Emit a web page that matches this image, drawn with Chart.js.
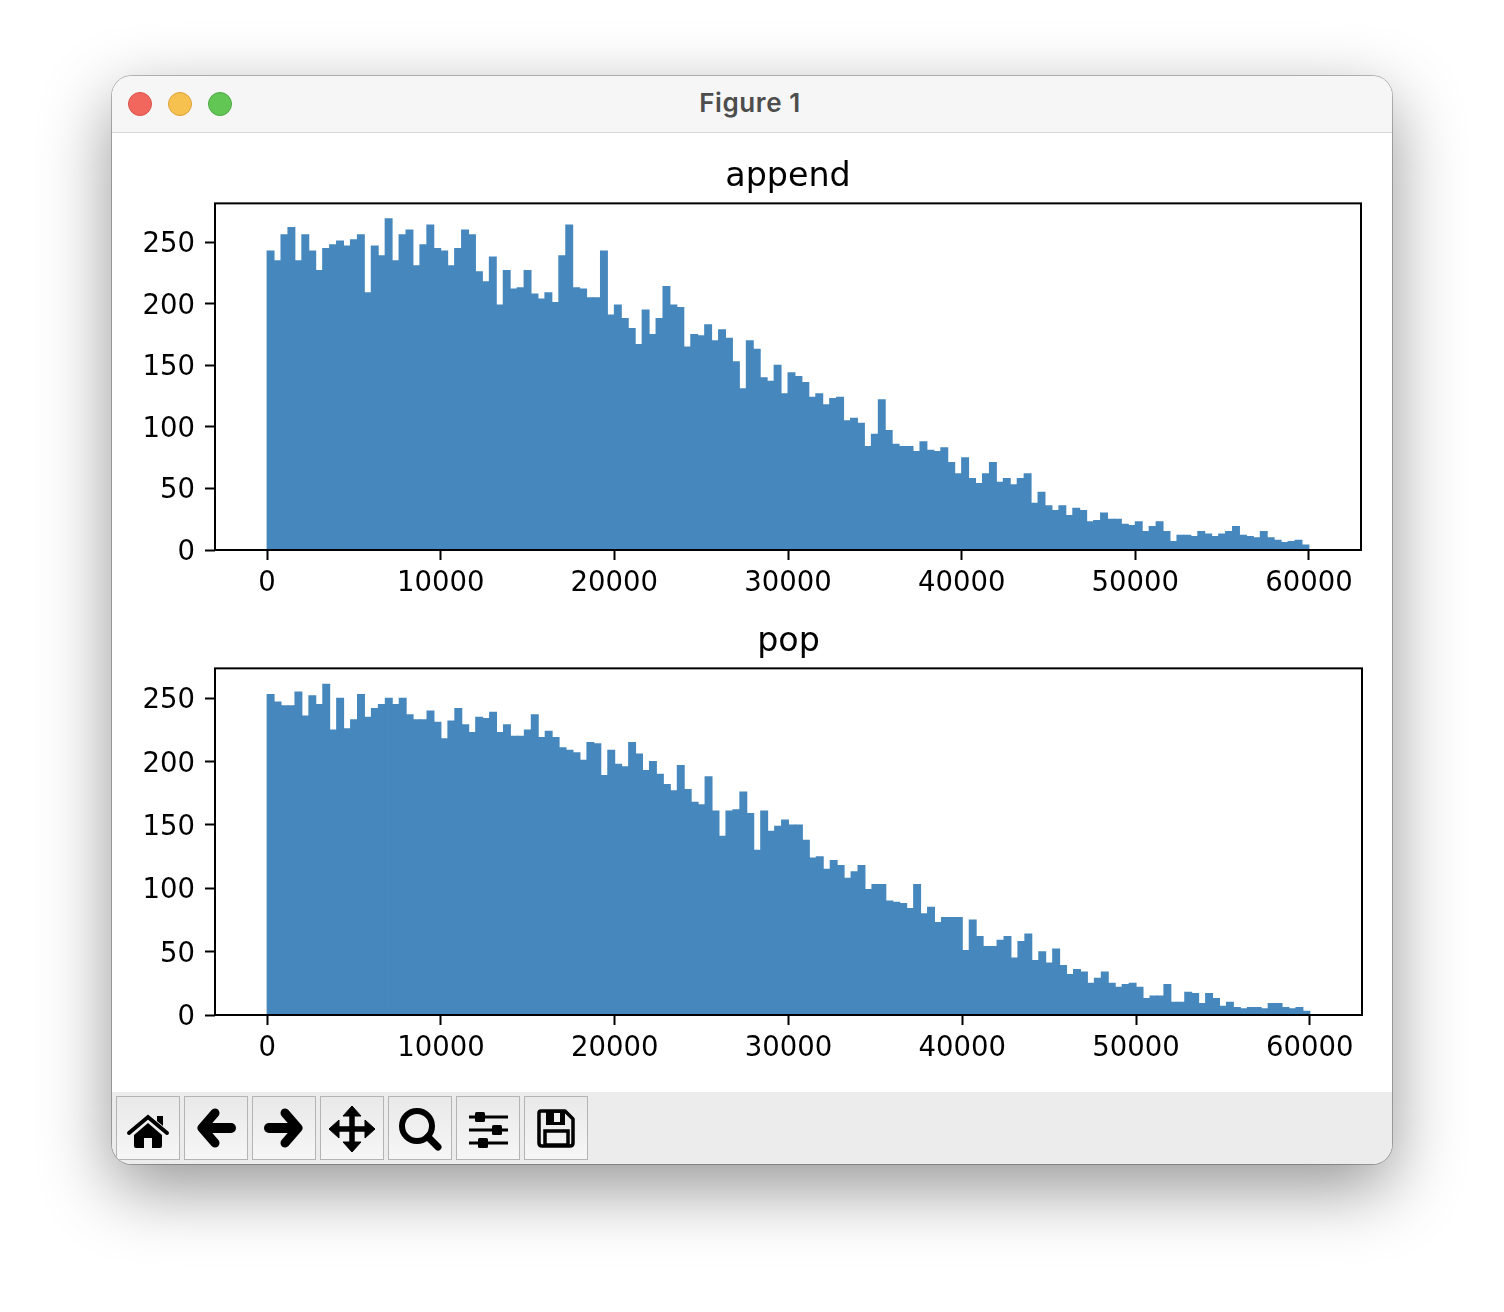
<!DOCTYPE html>
<html>
<head>
<meta charset="utf-8">
<title>Figure 1</title>
<script src="https://cdn.jsdelivr.net/npm/chart.js@4"></script>
<style>
    html, body { margin: 0; padding: 0; background: #fff; width: 1504px; height: 1312px; overflow: hidden; }
    #window {
        position: absolute; left: 112px; top: 76px; width: 1280px; height: 1088px;
        background: #fff; border-radius: 20px;
        box-shadow: 0 24px 70px 0 rgba(0,0,0,0.42), 0 0 0 1px rgba(0,0,0,0.25);
        overflow: hidden;
    }
    #titlebar {
        position: absolute; left: 0; top: 0; width: 100%; height: 56px; box-sizing: content-box;
        background: #f6f6f6; border-bottom: 1px solid #d9d9d9;
        text-align: center; text-indent: -4px;
        font: 600 26px/54px Inter, Roboto, sans-serif; letter-spacing: 0.6px; color: #4d4d4d;
    }
    .light { position: absolute; top: 16px; width: 22px; height: 22px; border-radius: 50%; border: 1px solid; }
    #toolbar { position: absolute; left: 0; top: 1016px; width: 100%; height: 72px; background: #ececec; }
    .tool {
        position: absolute; top: 4px; width: 62px; height: 62px; border: 1px solid #b4b4b4;
        background: linear-gradient(#e9e9e9, #f6f6f6);
    }
    .tool svg { position: absolute; left: -1px; top: -1px; width: 64px; height: 64px; }
    canvas { position: absolute; left: 0; }
</style>
</head>
<body>
<div id="window">
    <div id="titlebar">Figure 1
        <div class="light" style="left:16px;background:#f1675d;border-color:#d9534a"></div>
        <div class="light" style="left:56px;background:#f7c14f;border-color:#dca13d"></div>
        <div class="light" style="left:96px;background:#62c655;border-color:#4daa41"></div>
    </div>
    <canvas id="appendChart" width="1280" height="488" style="top:56px"></canvas>
    <canvas id="popChart" width="1280" height="488" style="top:521px"></canvas>
    <div id="toolbar">
        <div class="tool" style="left:4px"><svg viewBox="0 0 64 64">
            <path d="M13 37 L32 21 L51 37" fill="none" stroke="#000" stroke-width="4" stroke-linecap="round"/>
            <path d="M41 20 H47 V30 L41 25 Z"/>
            <path d="M18 39 L32 27 L46 39 V50 Q46 52 44 52 H36 V42 H28 V52 H20 Q18 52 18 50 Z"/>
        </svg></div>
        <div class="tool" style="left:72px"><svg viewBox="0 0 64 64">
            <path d="M31 17 L18 32 L31 47" fill="none" stroke="#000" stroke-width="9" stroke-linecap="round" stroke-linejoin="round"/>
            <path d="M20 32 H47" stroke="#000" stroke-width="10" stroke-linecap="round"/>
        </svg></div>
        <div class="tool" style="left:140px"><svg viewBox="0 0 64 64">
            <path d="M33 17 L46 32 L33 47" fill="none" stroke="#000" stroke-width="9" stroke-linecap="round" stroke-linejoin="round"/>
            <path d="M44 32 H17" stroke="#000" stroke-width="10" stroke-linecap="round"/>
        </svg></div>
        <div class="tool" style="left:208px"><svg viewBox="0 0 64 64">
            <path d="M32 16 V50 M15 33 H49" stroke="#000" stroke-width="5.5"/>
            <path d="M32 10 L41 20 H23 Z M32 56 L23 46 H41 Z M9 33 L19 24 V42 Z M55 33 L45 42 V24 Z" stroke="#000" stroke-width="1" stroke-linejoin="round"/>
        </svg></div>
        <div class="tool" style="left:276px"><svg viewBox="0 0 64 64">
            <circle cx="29" cy="30" r="15" fill="none" stroke="#000" stroke-width="6"/>
            <path d="M40 41 L50 51" stroke="#000" stroke-width="7" stroke-linecap="round"/>
        </svg></div>
        <div class="tool" style="left:344px"><svg viewBox="0 0 64 64">
            <path d="M13 21 H52 M13 34 H52 M13 47 H52" stroke="#000" stroke-width="3"/>
            <rect x="19" y="16" width="10" height="10" rx="1.5"/>
            <rect x="36" y="29" width="10" height="10" rx="1.5"/>
            <rect x="22" y="42" width="10" height="10" rx="1.5"/>
        </svg></div>
        <div class="tool" style="left:412px"><svg viewBox="0 0 64 64">
            <path d="M17 15 H41 L49 23 V47 Q49 50 46 50 H18 Q15 50 15 47 V17 Q15 15 17 15 Z" fill="none" stroke="#000" stroke-width="3.5" stroke-linejoin="round"/>
            <path d="M22 15 H41 V29 H22 Z"/>
            <rect x="30" y="17" width="6" height="9" fill="#f0f0f0"/>
            <rect x="21" y="35" width="23" height="14" fill="none" stroke="#000" stroke-width="3.5"/>
        </svg></div>
    </div>
</div>
<script>
const appendTitle = 'append';
const popTitle = 'pop';
const binWidth = 400;
const xTicks = [0, 10000, 20000, 30000, 40000, 50000, 60000];
const yTicks = [0, 50, 100, 150, 200, 250];
const barColor = '#4688bd';
const tickFont = { family: "'DejaVu Sans'", size: 27.5 };

const appendCounts = [243,235,256,262,235,256,243,227,245,248,251,247,252,256,209,247,239,269,235,256,
    260,231,248,264,245,243,231,245,260,256,226,218,238,199,227,212,213,227,208,204,
    209,201,239,264,213,212,205,205,243,191,199,188,180,167,195,175,188,214,199,197,
    165,175,174,183,170,179,172,153,131,170,163,140,137,150,127,144,141,136,124,127,
    118,123,124,105,107,103,84,94,122,97,86,84,84,80,88,81,80,83,71,62,
    75,58,54,62,71,55,58,53,58,62,38,47,36,32,36,28,34,32,23,24,
    30,25,25,21,20,23,15,19,23,15,7,12,12,11,15,13,11,13,15,19,
    12,11,10,15,10,8,6,7,8,4];

const popCounts = [253,247,244,244,255,236,252,245,261,225,250,226,233,253,235,242,245,250,245,250,
    237,233,233,240,231,218,232,242,229,223,235,234,239,223,229,220,220,225,237,219,
    224,219,211,209,207,201,215,214,189,209,198,196,215,206,193,200,190,182,177,197,
    178,168,166,188,161,141,161,162,176,159,130,161,145,149,154,150,150,138,124,125,
    115,122,118,108,113,118,99,103,103,90,89,88,84,103,80,85,73,77,77,77,
    51,75,62,54,54,59,62,45,58,64,43,50,41,52,39,32,36,34,25,29,
    34,25,22,24,25,22,13,15,15,24,10,10,18,17,9,17,13,7,10,6,
    5,6,6,5,9,9,6,5,6,3];

// matplotlib style box around the axes, and y labels centred on the digits
const boxPlugin = {
    id: 'axesBox',
    afterDatasetsDraw(chart) {
        const { ctx, chartArea, scales } = chart;
        ctx.save();
        ctx.strokeStyle = '#000';
        ctx.lineWidth = 2;
        ctx.strokeRect(chartArea.left, chartArea.top, chartArea.right - chartArea.left, chartArea.bottom - chartArea.top);
        ctx.fillStyle = '#000';
        ctx.font = `${tickFont.size}px ${tickFont.family}`;
        ctx.textAlign = 'right';
        ctx.textBaseline = 'alphabetic';
        scales.y.ticks.forEach((t, i) => {
            ctx.fillText(t.label, chartArea.left - 20, scales.y.getPixelForTick(i) + 10);
        });
        ctx.restore();
    }
};

function makeHist(id, title, counts, yMax, rightPad) {
    return new Chart(document.getElementById(id), {
        type: 'bar',
        data: {
            datasets: [{
                label: title,
                data: counts.map((c, i) => ({ x: binWidth * i + binWidth / 2, y: c })),
                backgroundColor: barColor,
                borderWidth: 0,
                inflateAmount: 0.5,
                barPercentage: 1,
                categoryPercentage: 1
            }]
        },
        plugins: [boxPlugin],
        options: {
            responsive: false,
            animation: false,
            layout: { padding: { left: 0, right: rightPad, top: 0, bottom: 0 } },
            plugins: {
                legend: { display: false },
                tooltip: { enabled: false },
                title: {
                    display: true,
                    text: title,
                    fullSize: false,
                    color: '#000',
                    font: { family: "'DejaVu Sans'", size: 33.3, weight: 'normal' },
                    padding: { top: 25, bottom: 6.4 }
                }
            },
            scales: {
                x: {
                    type: 'linear',
                    min: -3000,
                    max: 63000,
                    offset: false,
                    afterBuildTicks: axis => { axis.ticks = xTicks.map(v => ({ value: v })); },
                    afterFit: axis => { axis.height = 70; },
                    ticks: { color: '#000', font: tickFont, padding: 7, autoSkip: false, maxRotation: 0, callback: v => String(v) },
                    grid: { offset: false, drawOnChartArea: false, drawTicks: true, tickLength: 10, tickWidth: 2, tickColor: '#000' },
                    border: { display: false }
                },
                y: {
                    min: 0,
                    max: yMax,
                    afterBuildTicks: axis => { axis.ticks = yTicks.map(v => ({ value: v })); },
                    afterFit: axis => { axis.width = 103; },
                    ticks: { display: false, callback: v => String(v) },
                    grid: { drawOnChartArea: false, drawTicks: true, tickLength: 10, tickWidth: 2, tickColor: '#000' },
                    border: { display: false }
                }
            }
        }
    });
}

makeHist('appendChart', appendTitle, appendCounts, 281.6, 31);
makeHist('popChart', popTitle, popCounts, 273.6, 30);
</script>
</body>
</html>
